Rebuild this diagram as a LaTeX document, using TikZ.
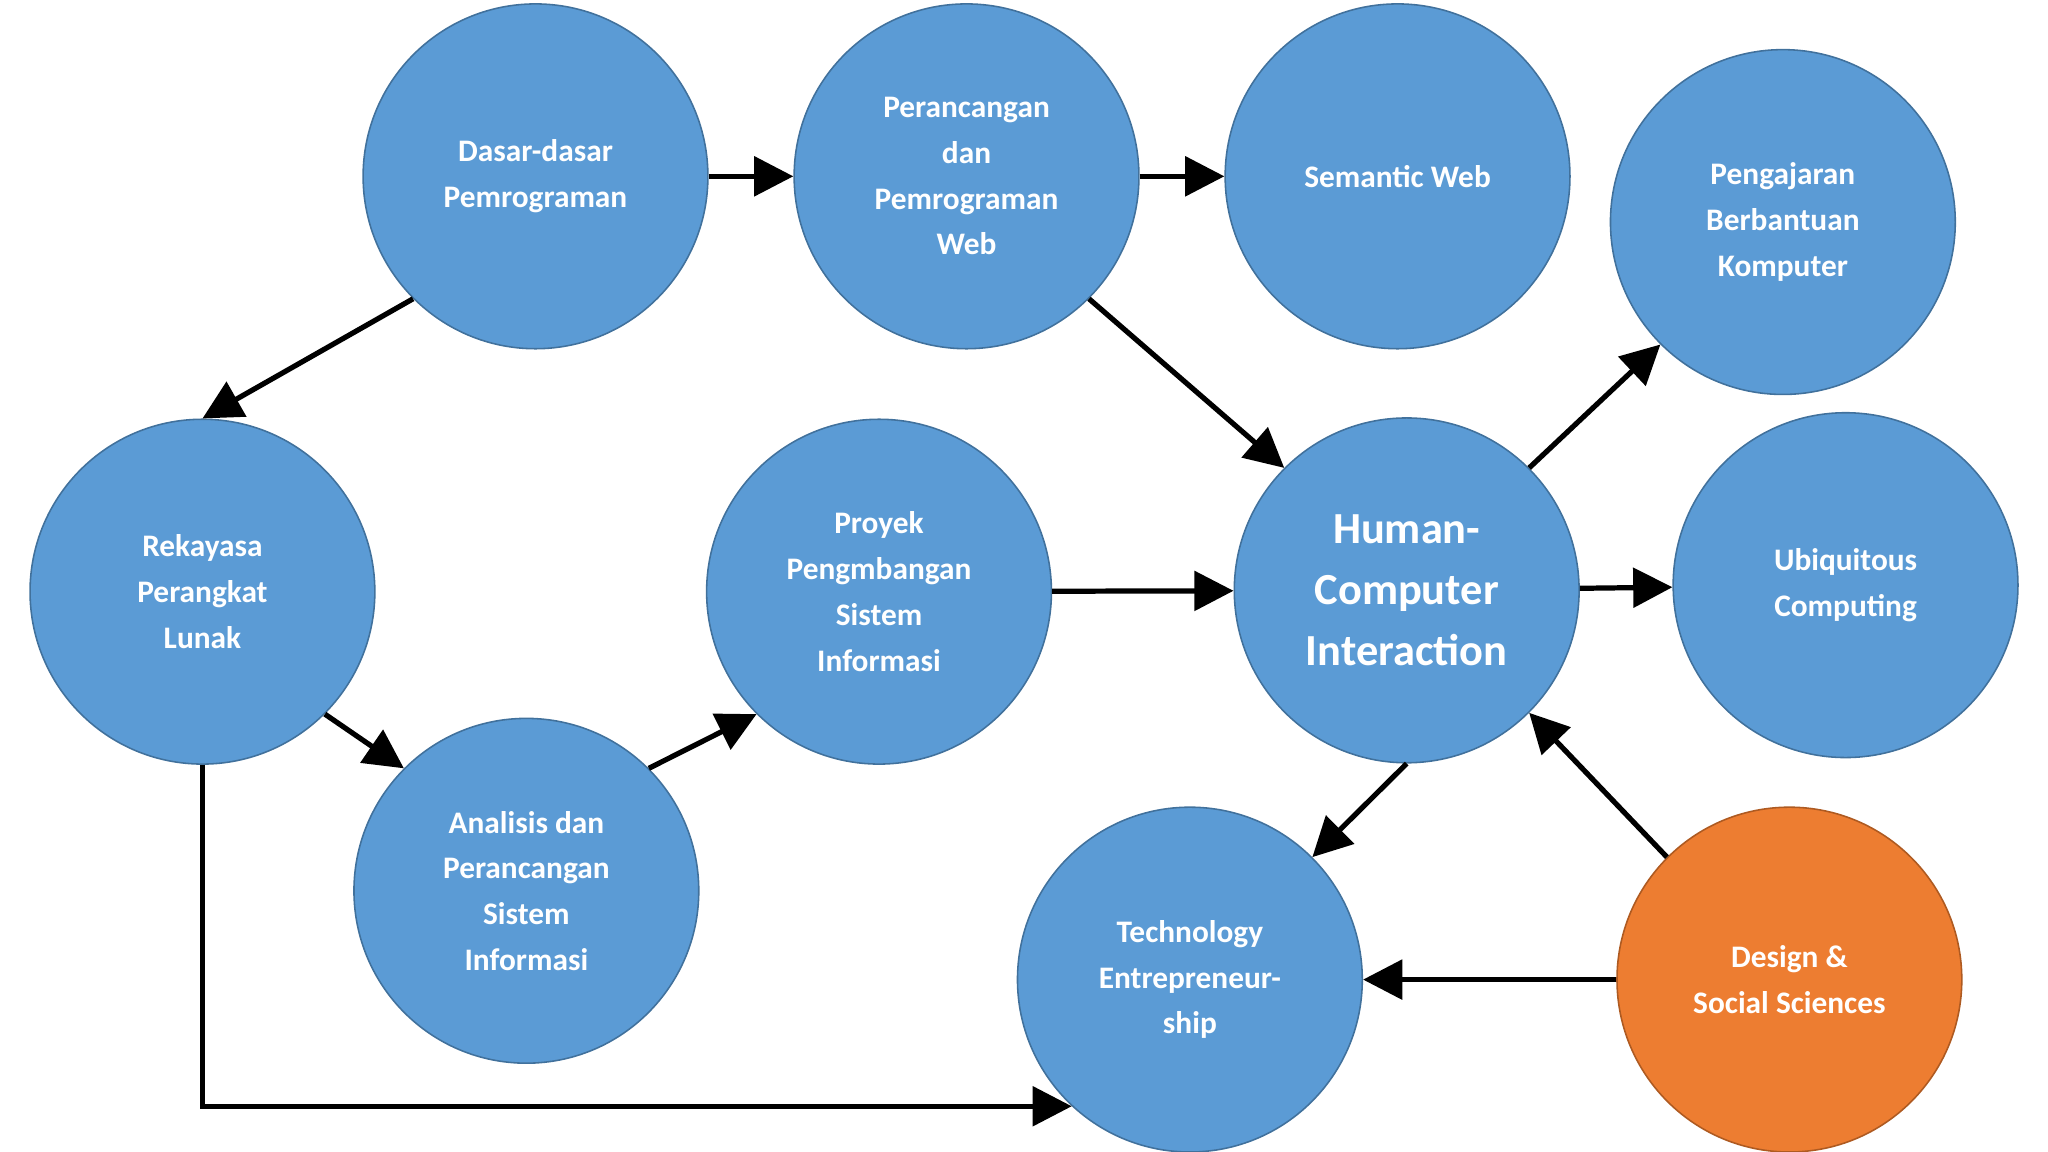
\documentclass[tikz,border=0pt]{standalone}
\usepackage{fontspec}
\setmainfont{Carlito}
\usetikzlibrary{arrows.meta}
\definecolor{cblue}{HTML}{5B9BD5}
\definecolor{cblueedge}{HTML}{41719C}
\definecolor{corange}{HTML}{ED7D31}
\definecolor{coredge}{HTML}{AE5A21}
\begin{document}
\begin{tikzpicture}[x=1pt,y=-1pt,
  topic/.style={circle,draw=cblueedge,fill=cblue,line width=1.2pt,minimum size=264pt,inner sep=0pt,
    text=white,font=\fontsize{24}{35}\selectfont\bfseries,align=center},
  conn/.style={line width=4pt,-{Triangle[length=30pt,width=30pt]}}]
\useasboundingbox (0,0) rectangle (1568,882);
\node[topic] (das) at (410,135) {Dasar-dasar\\Pemrograman};
\node[topic] (pw) at (740,135) {Perancangan\\dan\\Pemrograman\\Web};
\node[topic] (sem) at (1070,135) {Semantic Web};
\node[topic] (peng) at (1365,170) {Pengajaran\\Berbantuan\\Komputer};
\node[topic] (rek) at (155,453) {Rekayasa\\Perangkat\\Lunak};
\node[topic] (pro) at (673,453) {Proyek\\Pengmbangan\\Sistem\\Informasi};
\node[topic,font=\fontsize{34}{47}\selectfont\bfseries] (hci) at (1077,452) {Human-\\Computer\\Interaction};
\node[topic] (ubi) at (1413,448) {Ubiquitous\\Computing};
\node[topic] (ana) at (403,682) {Analisis dan\\Perancangan\\Sistem\\Informasi};
\node[topic] (tech) at (911,750) {Technology\\Entrepreneur-\\ship};
\node[topic,draw=coredge,fill=corange] (des) at (1370,750) {Design \&\\Social Sciences};
\draw[conn] (das) -- (pw);
\draw[conn] (pw) -- (sem);
\draw[conn] (das.225) -- (rek.north);
\draw[conn] (pw.-45) -- (hci.135);
\draw[conn] (rek.-45) -- (ana.135);
\draw[conn] (ana.45) -- (pro.225);
\draw[conn] (pro) -- (hci);
\draw[conn] (hci.45) -- (peng.225);
\draw[conn] (hci) -- (ubi);
\draw[conn] (hci.south) -- (tech.45);
\draw[conn] (des.135) -- (hci.-45);
\draw[conn] (des) -- (tech);
\draw[conn] (rek.south) |- (tech.-133);
\end{tikzpicture}
\end{document}
